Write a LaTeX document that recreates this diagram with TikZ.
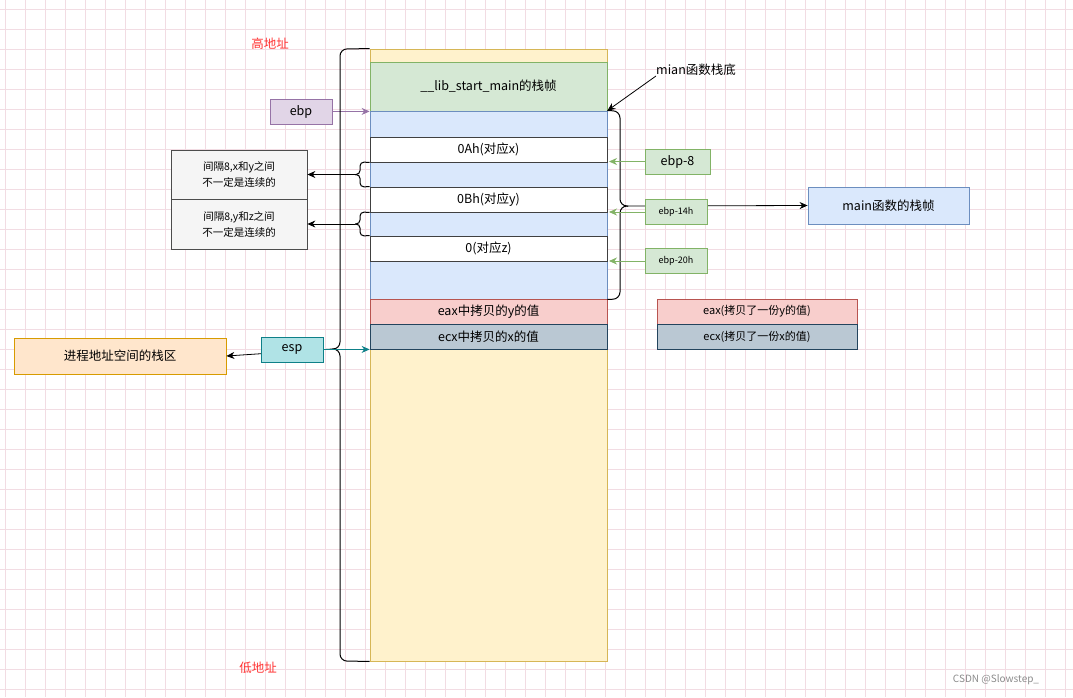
\documentclass[tikz,border=0pt]{standalone}
\usepackage{fontspec}
\setmainfont{Noto Sans CJK SC}
\usetikzlibrary{arrows.meta}
\definecolor{gridc}{HTML}{F2DCE3}
\definecolor{yel}{HTML}{FFF2CC}\definecolor{yelD}{HTML}{D6B656}
\definecolor{grn}{HTML}{D5E8D4}\definecolor{grnD}{HTML}{82B366}
\definecolor{blu}{HTML}{DAE8FC}\definecolor{bluD}{HTML}{6C8EBF}
\definecolor{red1}{HTML}{F8CECC}\definecolor{redD}{HTML}{B85450}
\definecolor{gry}{HTML}{BAC8D3}\definecolor{gryD}{HTML}{23445D}
\definecolor{pur}{HTML}{E1D5E7}\definecolor{purD}{HTML}{9673A6}
\definecolor{tea}{HTML}{B0E3E6}\definecolor{teaD}{HTML}{0E8088}
\definecolor{org}{HTML}{FFE6CC}\definecolor{orgD}{HTML}{D79B00}
\definecolor{lg}{HTML}{F5F5F5}
\definecolor{redT}{HTML}{FF3333}
\tikzset{
 box/.style={draw, line width=0.8pt, inner sep=0pt, font=\fontsize{12.5}{14}\selectfont, align=center},
 arr/.style={-{Stealth[length=8pt,width=7pt]}, line width=0.8pt},
 br/.style={line width=1pt, rounded corners=7pt},
}
\begin{document}
\begin{tikzpicture}[x=1pt,y=-1pt]
\useasboundingbox (0,0) rectangle (1073,697);
\fill[white] (0,0) rectangle (1073,697);
\foreach \i in {0,20,...,1060} \draw[gridc, line width=0.5pt] (\i+5,0) -- (\i+5,697);
\foreach \j in {0,20,...,680} \draw[gridc, line width=0.5pt] (0,\j+9) -- (1073,\j+9);
% main column
\node[box, fill=yel, draw=yelD, minimum width=237pt, minimum height=612pt] (col) at (488.5,355) {};
\node[box, fill=grn, draw=grnD, minimum width=237pt, minimum height=49pt] (lib) at (488.5,86.5) {\_\_lib\_start\_main的栈帧};
\node[box, fill=blu, draw=bluD, minimum width=237pt, minimum height=188pt] (mainf) at (488.5,205) {};
\node[box, fill=white, draw=black!75, minimum width=237pt, minimum height=25pt] (x) at (488.5,149.5) {0Ah(对应x)};
\node[box, fill=white, draw=black!75, minimum width=237pt, minimum height=25pt] (y) at (488.5,199.5) {0Bh(对应y)};
\node[box, fill=white, draw=black!75, minimum width=237pt, minimum height=25pt] (z) at (488.5,248.5) {0(对应z)};
\node[box, fill=red1, draw=redD, minimum width=237pt, minimum height=25pt] (eax) at (488.5,311.5) {eax中拷贝的y的值};
\node[box, fill=gry, draw=gryD, minimum width=237pt, minimum height=25pt] (ecx) at (488.5,336.5) {ecx中拷贝的x的值};
% labels
\node[text=redT, font=\fontsize{12.5}{14}\selectfont] (hi) at (270,44) {高地址};
\node[text=redT, font=\fontsize{12.5}{14}\selectfont] (lo) at (258,668) {低地址};
% ebp / esp
\node[box, fill=pur, draw=purD, minimum width=62pt, minimum height=25pt] (ebp) at (301,111.5) {ebp};
\draw[arr, draw=purD] (ebp.east) -- (lib.south west);
\node[box, fill=org, draw=orgD, minimum width=212pt, minimum height=36pt] (stack) at (120,356) {进程地址空间的栈区};
\coordinate (lt) at (332,349);
\draw[br] (col.north west) -- (340,49) -- (340,349) -- (lt);
\draw[br] (col.south west) -- (340,661) -- (340,349) -- (lt);
\draw[arr] (lt) -- (stack.east);
\node[box, fill=tea, draw=teaD, minimum width=62pt, minimum height=25pt] (esp) at (292,349.5) {esp};
\draw[arr, draw=teaD] (esp.east) -- (ecx.south west);
% small braces
\node[box, fill=lg, draw=black!70, minimum width=136pt, minimum height=49pt, font=\fontsize{10.5}{16}\selectfont] (g1) at (239,174.5) {间隔8,x和y之间\\不一定是连续的};
\node[box, fill=lg, draw=black!70, minimum width=136pt, minimum height=50pt, font=\fontsize{10.5}{16}\selectfont] (g2) at (239,224) {间隔8,y和z之间\\不一定是连续的};
\coordinate (b1) at (355,174.5);
\coordinate (b2) at (355,224);
\draw[br, rounded corners=4pt] (x.south west) -- (360,162) -- (360,174.5) -- (b1);
\draw[br, rounded corners=4pt] (y.north west) -- (360,187) -- (360,174.5) -- (b1);
\draw[br, rounded corners=4pt] (y.south west) -- (360,212) -- (360,224) -- (b2);
\draw[br, rounded corners=4pt] (z.north west) -- (360,236) -- (360,224) -- (b2);
\draw[arr] (b1) -- (g1.east);
\draw[arr] (b2) -- (g2.east);
% right brace
\coordinate (rt) at (628,206);
\draw[br] (mainf.north east) -- (620,111) -- (620,206) -- (rt);
\draw[br] (mainf.south east) -- (620,299) -- (620,206) -- (rt);
\node[box, fill=blu, draw=bluD, minimum width=161pt, minimum height=37pt] (mbox) at (888.5,205.5) {main函数的栈帧};
\draw[arr] (rt) -- (mbox.west);
% ebp offsets
\node[box, fill=grn, draw=grnD, minimum width=65pt, minimum height=25pt] (e8) at (677.5,161.5) {ebp-8};
\node[box, fill=grn, draw=grnD, minimum width=62pt, minimum height=25pt, font=\fontsize{9}{10}\selectfont] (e14) at (676,212) {ebp-14h};
\node[box, fill=grn, draw=grnD, minimum width=62pt, minimum height=25pt, font=\fontsize{9}{10}\selectfont] (e20) at (676,261) {ebp-20h};
\coordinate (p8) at (609,161.5); \coordinate (p14) at (609,212); \coordinate (p20) at (609,261);
\draw[arr, draw=grnD] (e8.west) -- (p8);
\draw[arr, draw=grnD] (e14.west) -- (p14);
\draw[arr, draw=grnD] (e20.west) -- (p20);
% mian label
\node[anchor=west, font=\fontsize{12.5}{14}\selectfont, inner sep=0pt] (mian) at (656,70) {mian函数栈底};
\draw[arr] (mian.south west) -- (mainf.north east);
% eax/ecx notes
\node[box, fill=red1, draw=redD, minimum width=200pt, minimum height=25pt, font=\fontsize{11}{12}\selectfont] (n1) at (757,311.5) {eax(拷贝了一份y的值)};
\node[box, fill=gry, draw=gryD, minimum width=200pt, minimum height=25pt, font=\fontsize{11}{12}\selectfont] (n2) at (757,336.5) {ecx(拷贝了一份x的值)};
\node[text=black!45, font=\fontsize{10}{12}\selectfont] (wm) at (996,680) {CSDN @Slowstep\_};
\end{tikzpicture}
\end{document}
